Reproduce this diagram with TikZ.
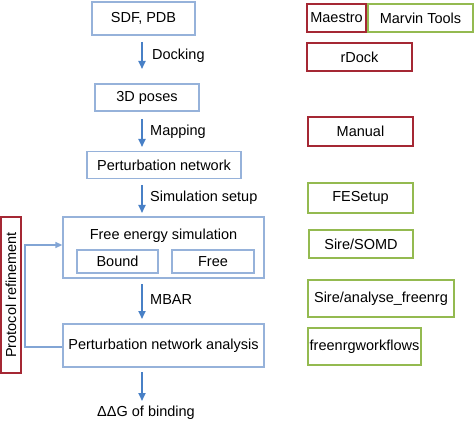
\documentclass[tikz,border=0pt]{standalone}
\usepackage{fontspec}
\setmainfont{Liberation Sans}
\usetikzlibrary{arrows.meta}
\definecolor{boxblue}{RGB}{150,178,218}
\definecolor{arrblue}{RGB}{72,128,198}
\definecolor{tred}{RGB}{165,40,52}
\definecolor{tgreen}{RGB}{148,186,80}
\begin{document}
\begin{tikzpicture}[x=1pt,y=-1pt,
  font=\fontsize{14.5}{16}\selectfont,
  bbox/.style={draw=boxblue, line width=1.3pt, inner sep=0pt},
  rbox/.style={draw=tred, line width=1.8pt, inner sep=0pt},
  gbox/.style={draw=tgreen, line width=1.8pt, inner sep=0pt},
  flow/.style={draw=arrblue, line width=1.8pt, -{Triangle[length=8pt,width=7pt]}},
  fb/.style={draw=boxblue!75!arrblue, line width=1.5pt, -{Triangle[length=7pt,width=6pt]}},
  lbl/.style={anchor=west, inner sep=0pt}]
\useasboundingbox (0,0) rectangle (474,422);

% main column
\node[bbox, minimum width=103pt, minimum height=33pt] (sdf) at (143.5,18.5) {SDF, PDB};
\node[bbox, minimum width=104pt, minimum height=27pt] (poses) at (147,97.5) {3D poses};
\node[bbox, minimum width=154pt, minimum height=27pt] (pnet) at (164,165) {Perturbation network};
\node[bbox, minimum width=201pt, minimum height=61pt] (fes) at (163.5,247.5) {};
\node[inner sep=0pt] (festxt) at (163.5,236) {Free energy simulation};
\node[bbox, minimum width=81pt, minimum height=23pt] (bound) at (117.5,261.5) {Bound};
\node[bbox, minimum width=82pt, minimum height=23pt] (free) at (213,261.5) {Free};
\node[bbox, minimum width=201pt, minimum height=43pt] (pna) at (163.5,345.5) {Perturbation network analysis};
\node[inner sep=0pt] (ddg) at (146,413) {ΔΔG of binding};

% arrow coordinates
\coordinate (a1s) at (142,42);  \coordinate (a1e) at (142,69);
\coordinate (a2s) at (142,119); \coordinate (a2e) at (142,147);
\coordinate (a3s) at (142,185); \coordinate (a3e) at (142,213);
\coordinate (a4s) at (142,284); \coordinate (a4e) at (142,319);
\coordinate (a5s) at (142,372); \coordinate (a5e) at (142,401);
\draw[flow] (a1s) -- (a1e);
\draw[flow] (a2s) -- (a2e);
\draw[flow] (a3s) -- (a3e);
\draw[flow] (a4s) -- (a4e);
\draw[flow] (a5s) -- (a5e);
\node[lbl] (ldock) at (152,56) {Docking};
\node[lbl] (lmap) at (150,132) {Mapping};
\node[lbl] (lsim) at (150,198) {Simulation setup};
\node[lbl] (lmbar) at (150,300) {MBAR};

% feedback
\coordinate (fbA) at (25,347);
\coordinate (fbB) at (25,245);
\draw[fb] (pna.west |- fbA) -- (fbA) -- (fbB) -- (fes.west |- fbB);
\node[rbox, minimum width=156pt, minimum height=20pt, rotate=90] (prot) at (11,295) {Protocol refinement};

% tools column
\node[rbox, minimum width=59pt, minimum height=28pt] (maestro) at (336.5,18) {Maestro};
\node[gbox, minimum width=105pt, minimum height=28pt] (marvin) at (420.5,18) {Marvin Tools};
\node[rbox, minimum width=105pt, minimum height=28pt] (rdock) at (359.5,57) {rDock};
\node[rbox, minimum width=105pt, minimum height=29pt] (manual) at (360.5,131.5) {Manual};
\node[gbox, minimum width=105pt, minimum height=30pt] (fesetup) at (360.5,198) {FESetup};
\node[gbox, minimum width=104pt, minimum height=28pt] (somd) at (361,244) {Sire/SOMD};
\node[gbox, minimum width=146pt, minimum height=37pt] (anal) at (381,298.5) {Sire/analyse\_freenrg};
\node[gbox, minimum width=113pt, minimum height=37pt] (fnw) at (364.5,346.5) {freenrgworkflows};
\end{tikzpicture}
\end{document}
